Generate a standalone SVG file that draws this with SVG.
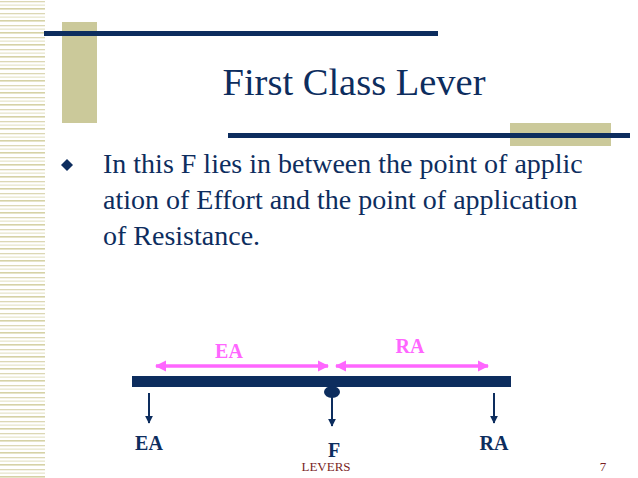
<svg xmlns="http://www.w3.org/2000/svg" width="638" height="478" viewBox="0 0 638 478">
<defs>
<pattern id="stripes" x="0" y="0" width="45" height="12" patternUnits="userSpaceOnUse">
<rect x="0" y="1" width="45" height="1.3" fill="#dcd8b4"/>
<rect x="0" y="4.5" width="45" height="1.3" fill="#e8e6cc"/>
<rect x="0" y="8" width="45" height="1.6" fill="#d6d2a6"/>
</pattern>
<marker id="dn" viewBox="0 0 10 10" refX="9" refY="5" markerWidth="4" markerHeight="4" orient="auto"><path d="M0,0 L10,5 L0,10 Z" fill="#0d2d5e"/></marker>
<marker id="pk" viewBox="0 0 10 10" refX="9" refY="5" markerWidth="3.2" markerHeight="3.2" orient="auto-start-reverse"><path d="M0,0 L10,5 L0,10 Z" fill="#ff66ff"/></marker>
<style>
text{font-family:"Liberation Serif","Times New Roman",serif}
.navy{fill:#0d2d5e}
.lbl{font-weight:bold;font-size:20px}
.pl{fill:#ff66ff}
.conn{stroke:#0d2d5e;stroke-width:2;fill:none}
.pconn{stroke:#ff66ff;stroke-width:3.5;fill:none}
</style>
</defs>
<rect width="638" height="478" fill="#ffffff"/>
<rect x="0" y="0" width="45" height="478" fill="url(#stripes)"/>
<g id="decor">
<rect x="62" y="22" width="35" height="101" fill="#cbc99a"/>
<rect x="44" y="31" width="394" height="5" fill="#0d2d5e"/>
<rect x="510" y="123" width="101" height="23" fill="#cbc99a"/>
<rect x="228" y="133" width="402" height="5" fill="#0d2d5e"/>
</g>
<g id="title"><text class="navy" x="354" y="95" font-size="38.5" text-anchor="middle" font-family="Liberation Serif, serif">First Class Lever</text></g>
<g id="bullet">
<path d="M67,159 L73,165 L67,171 L61,165 Z" fill="#0d2d5e"/>
<text class="navy" font-size="28" font-family="Liberation Serif, serif"><tspan x="103" y="173">In this F lies in between the point of applic</tspan><tspan x="103" y="209">ation of Effort and the point of application</tspan><tspan x="103" y="245">of Resistance.</tspan></text>
</g>
<g id="lever">
<rect x="132" y="376" width="379" height="11" fill="#0d2d5e"/>
<ellipse cx="332" cy="392" rx="8" ry="6" fill="#0d2d5e"/>
</g>
<g id="connectors">
<line class="conn" x1="149" y1="393" x2="149" y2="423" marker-end="url(#dn)"/>
<line class="conn" x1="332" y1="396" x2="332" y2="426" marker-end="url(#dn)"/>
<line class="conn" x1="494" y1="393" x2="494" y2="423" marker-end="url(#dn)"/>
<line class="pconn" x1="156" y1="366" x2="328" y2="366" marker-start="url(#pk)" marker-end="url(#pk)"/>
<line class="pconn" x1="336" y1="366" x2="488" y2="366" marker-start="url(#pk)" marker-end="url(#pk)"/>
</g>
<g id="labels">
<text class="lbl navy" x="149" y="450" text-anchor="middle">EA</text>
<text class="lbl navy" x="334" y="457" text-anchor="middle">F</text>
<text class="lbl navy" x="494" y="450" text-anchor="middle">RA</text>
<text class="lbl pl" x="229" y="358" text-anchor="middle">EA</text>
<text class="lbl pl" x="410" y="353" text-anchor="middle">RA</text>
</g>
<g id="footer">
<text x="326" y="471" font-size="13" fill="#7a1f1f" text-anchor="middle">LEVERS</text>
<text x="603" y="471" font-size="13" fill="#7a1f1f" text-anchor="middle">7</text>
</g>
</svg>
